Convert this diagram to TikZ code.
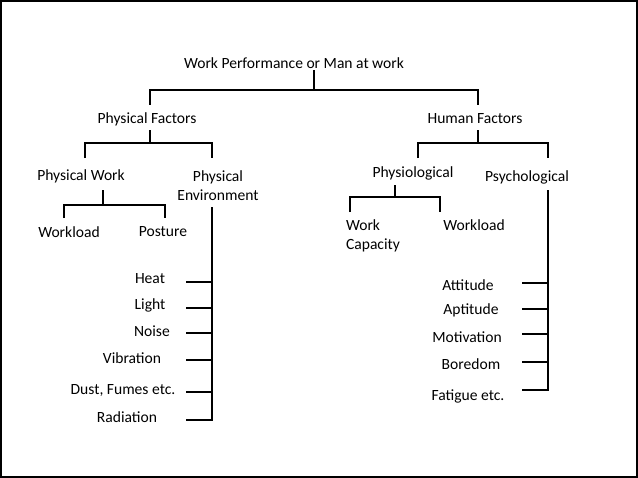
\documentclass[tikz,border=0pt]{standalone}
\usepackage{fontspec}
\setmainfont{Carlito}
\usetikzlibrary{calc}
\begin{document}
\begin{tikzpicture}[x=0.03cm,y=-0.03cm,font=\fontsize{13.3}{16}\selectfont,
  every node/.style={inner sep=1pt,align=center},
  br/.style={line width=1.4pt}]
\useasboundingbox (0,0) rectangle (638,478);
\draw[line width=1pt] (1,1) rectangle (637,477);

\node (title) at (294,63) {Work Performance or Man at work};
\node (pf) at (147,119) {Physical Factors};
\node (hf) at (475,119) {Human Factors};

\node (pw) at (81,176) {Physical Work};
\node (pe) at (218,186) {Physical\\Environment};
\node (wl1) at (69,232) {Workload};
\node (pos) at (163,232) {Posture};

\node (phy) at (413,173) {Physiological};
\node (psy) at (527,177) {Psychological};
\node[align=left] (wc) at (373,236) {Work\\Capacity};
\node (wl2) at (474,225) {Workload};

% environment factors
\node (heat) at (150,279) {Heat};
\node (light) at (150,305) {Light};
\node (noise) at (152,331) {Noise};
\node (vib) at (132,358) {Vibration};
\node (dust) at (123,390) {Dust, Fumes etc.};
\node (rad) at (127,417) {Radiation};

% psychological factors
\node (att) at (468,285) {Attitude};
\node (apt) at (471,310) {Aptitude};
\node (mot) at (467,337) {Motivation};
\node (bor) at (471,364) {Boredom};
\node (fat) at (468,396) {Fatigue etc.};

% brackets
\coordinate (t1) at (314,90);
\draw[br] (title.south -| t1) -- (t1);
\draw[br] (150,105) |- (t1) -| (478,105);

\coordinate (p1) at (150,143);
\draw[br] (150,130) -- (p1);
\draw[br] (85,158) |- (p1) -| (212,158);

\coordinate (h1) at (478,143);
\draw[br] (478,130) -- (h1);
\draw[br] (418,158) |- (h1) -| (548,158);

\coordinate (w1) at (103,205);
\draw[br] (103,190) -- (w1);
\draw[br] (64,218) |- (w1) -| (165,218);

\coordinate (s1) at (395,197);
\draw[br] (395,185) -- (s1);
\draw[br] (350,212) |- (s1) -| (440,212);

% trunks
\draw[br] (212,207) |- (186,420);
\foreach \n/\y in {heat/282,light/308,noise/333,vib/360,dust/392}
  \draw[br] (212,\y) -- (186,\y);

\draw[br] (548,190) |- (522,390);
\foreach \n/\y in {att/283,apt/309,mot/334,bor/362}
  \draw[br] (548,\y) -- (522,\y);
\end{tikzpicture}
\end{document}
